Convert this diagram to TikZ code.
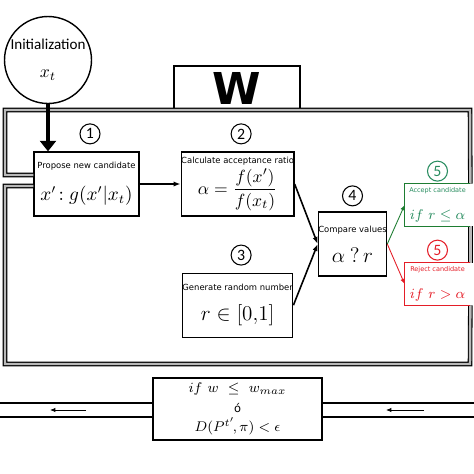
\documentclass[tikz,border=0pt]{standalone}
\usepackage{amsmath}
\usepackage{fontspec}
\setsansfont{DejaVu Sans}
\newfontfamily\calib{Carlito}
\newfontfamily\wfont{DejaVu Sans}
\usetikzlibrary{positioning,arrows.meta}
\definecolor{accgreen}{RGB}{30,125,50}
\definecolor{accteal}{RGB}{40,140,95}
\definecolor{rejred}{RGB}{228,30,40}
\newcommand{\lblfont}{\fontsize{4.8}{5.6}\selectfont\sffamily}
\newcommand{\outfont}{\fontsize{3.7}{4.4}\selectfont\sffamily}

\begin{document}
\begin{tikzpicture}[x=0.02cm,y=-0.02cm,line join=miter,
    stepbox/.style={draw,line width=0.7pt,minimum width=2.1cm,minimum height=1.28cm,align=center,inner sep=0pt},
    numc/.style={circle,draw,line width=0.6pt,minimum size=0.4cm,inner sep=0pt,font=\calib\fontsize{9}{9}\selectfont},
    wframe/.style={draw,line width=0.6pt,double=gray!55,double distance=1.4pt,line join=miter},
    flow/.style={-{Latex[length=4pt,width=3pt]},line width=0.9pt},
    outbox/.style={minimum width=1.3cm,minimum height=0.84cm,align=center,inner sep=0pt}]
    \useasboundingbox (0,0) rectangle (474,474);
    % start
    \node[circle,draw,line width=0.8pt,minimum size=1.74cm,align=center,inner sep=-4pt] (init) at (48,60)
        {{\calib\fontsize{8.6}{9}\selectfont Initialization}\\[4pt]$x_t$};
    % steps
    \node[stepbox] (prop) at (86.5,184) {\lblfont Propose new candidate\\[6pt]\fontsize{10.5}{12}\selectfont$x'\!:g(x'|x_t)$};
    \node[stepbox,right=0.82cm of prop] (ratio) {\lblfont Calculate acceptance ratio\\[1pt]$\alpha=\dfrac{f(x')}{f(x_t)}$};
    \node[stepbox,below=1.12cm of ratio] (rand) {\lblfont Generate random number\\[5pt]\large$r\in[0{,}1]$};
    \node[stepbox,minimum width=1.26cm] (comp) at (352.5,244) {\lblfont Compare values\\[5pt]\large$\alpha\:?\,r$};
    \node[outbox,text=accteal] (acc) at (437.5,205) {{\outfont Accept candidate}\\[3pt]\fontsize{7.8}{9}\selectfont$if\ r\le\alpha$};
    \node[outbox,text=rejred] (rej) at (437.5,284) {{\outfont Reject candidate}\\[3pt]\fontsize{7.8}{9}\selectfont$if\ r>\alpha$};
    % numbers
    \node[numc,above=0.14cm of prop,xshift=0.07cm] (n1) {1};
    \node[numc,above=0.14cm of ratio,xshift=0.07cm] (n2) {2};
    \node[numc,above=0.14cm of rand,xshift=0.07cm] (n3) {3};
    \node[numc,above=0.1cm of comp] (n4) {4};
    \node[numc,draw=accteal,text=accteal,above=0.04cm of acc] (n5a) {5};
    \node[numc,draw=rejred,text=rejred,above=0.04cm of rej] (n5b) {5};
    % W frame
    \coordinate (fl) at (5,110);
    \coordinate (fr) at (470,364);
    \draw[line width=0.7pt] (174,109) -- (174,66) -- (300,66) -- (300,109);
    \node[font=\wfont\bfseries\fontsize{25}{25}\selectfont] (wlab) at (237,88) {W};
    \draw[wframe] (prop.west |- 0,175) -- (fl |- 0,175) -- (fl) -- (fr |- fl) -- (acc.north east);
    \draw[wframe] (acc.south east) -- (rej.north east);
    \draw[wframe] (rej.south east) -- (fr) -- (fl |- fr) -- (fl |- 0,186) -- (prop.west |- 0,186);
    \draw[accgreen,line width=0.9pt] (acc.north east) -- (acc.north west) -- (acc.south west) -- (acc.south east);
    \draw[rejred,line width=0.9pt] (rej.north east) -- (rej.north west) -- (rej.south west) -- (rej.south east);
    % connectors
    \draw[-{Triangle[width=9pt,length=6pt]},line width=2.6pt] (init.south) -- (init.south |- prop.north);
    \draw[flow] (prop) -- (ratio);
    \draw[flow] (ratio.east) -- (comp.west);
    \draw[flow] (rand.east) -- (comp.west);
    \draw[-{Latex[length=3pt,width=2.5pt]},accgreen,line width=0.5pt] (comp.east) -- (acc.west);
    \draw[-{Latex[length=3pt,width=2.5pt]},rejred,line width=0.5pt] (comp.east) -- (rej.west);
    % stop condition
    \node[draw,line width=0.7pt,minimum width=3.38cm,minimum height=1.24cm,align=center,inner sep=0pt] (stop) at (237.5,409)
        {\fontsize{8.5}{9}\selectfont$if\ w\ \le\ w_{max}$\\[-1pt]\textsf{\fontsize{6.5}{7}\selectfont ó}\\[-1pt]\fontsize{8.5}{9}\selectfont$D(P^{t'}\!,\pi)<\epsilon$};
    \coordinate (cl) at (0,403);
    \coordinate (cr) at (474,417);
    \draw[line width=0.7pt] (cl) -- (stop.west |- cl);
    \draw[line width=0.7pt] (cl |- cr) -- (stop.west |- cr);
    \draw[line width=0.7pt] (cr |- cl) -- (stop.east |- cl);
    \draw[line width=0.7pt] (cr) -- (stop.east |- cr);
    \coordinate (al1) at (86,410);
    \coordinate (al2) at (50,410);
    \coordinate (ar1) at (424,410);
    \coordinate (ar2) at (386,410);
    \draw[-{Latex[length=3pt,width=2.5pt]},line width=0.5pt] (al1) -- (al2);
    \draw[-{Latex[length=3pt,width=2.5pt]},line width=0.5pt] (ar1) -- (ar2);
\end{tikzpicture}
\end{document}
